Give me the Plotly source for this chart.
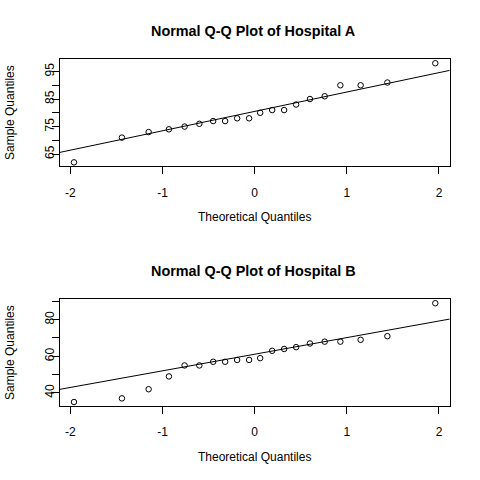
import numpy as np
import plotly.graph_objects as go
from plotly.subplots import make_subplots

# theoretical normal quantiles for n = 20
theoretical = [-1.96, -1.44, -1.15, -0.93, -0.76, -0.60, -0.45, -0.32, -0.19, -0.06,
               0.06, 0.19, 0.32, 0.45, 0.60, 0.76, 0.93, 1.15, 1.44, 1.96]

# sorted sample values
hospital_a = [62, 71, 73, 74, 75, 76, 77, 77, 78, 78,
              80, 81, 81, 83, 85, 86, 90, 90, 91, 98]
hospital_b = [35, 37, 42, 49, 55, 55, 57, 57, 58, 58,
              59, 63, 64, 65, 67, 68, 68, 69, 71, 89]

x_ticks = [-2, -1, 0, 1, 2]
x_labels = ["-2", "-1", "0", "1", "2"]
a_ticks = [65, 70, 75, 80, 85, 90, 95]
a_labels = ["65", "", "75", "", "85", "", "95"]
b_ticks = [40, 50, 60, 70, 80, 90]
b_labels = ["40", "", "60", "", "80", ""]

FONT = "Liberation Sans, Arial, sans-serif"


def r_range(vals):
    lo, hi = min(vals), max(vals)
    pad = (hi - lo) * 0.04
    return [lo - pad, hi + pad]


def qq_line(x_range, sample):
    # same as R's qqline: through the first and third quartiles
    q1, q3 = np.quantile(sample, [0.25, 0.75])
    z = 0.6744897501960817
    slope = (q3 - q1) / (2 * z)
    mid = q1 + slope * z
    xs = np.array(x_range)
    return xs, mid + slope * xs


fig = make_subplots(rows=2, cols=1)

xr = r_range(theoretical)
panels = [
    (1, hospital_a, a_ticks, a_labels, [0.6535, 0.8765]),
    (2, hospital_b, b_ticks, b_labels, [0.1542, 0.3765]),
]

for row, sample, yt, yl, dom in panels:
    fig.add_trace(go.Scatter(
        x=theoretical, y=sample, mode="markers",
        marker=dict(symbol="circle-open", size=5.5, color="black",
                    line=dict(width=1, color="black")),
        showlegend=False, cliponaxis=False, hoverinfo="skip",
    ), row=row, col=1)
    lx, ly = qq_line(xr, sample)
    fig.add_trace(go.Scatter(
        x=lx, y=ly, mode="lines", line=dict(color="black", width=1),
        showlegend=False, hoverinfo="skip",
    ), row=row, col=1)
    fig.update_xaxes(
        range=xr, domain=[0.124, 0.937], tickvals=x_ticks, ticktext=x_labels,
        ticks="outside", ticklen=7, tickcolor="black", tickwidth=1,
        showline=True, linecolor="black", linewidth=1, mirror=True,
        showgrid=False, zeroline=False, ticklabelstandoff=8,
        tickfont=dict(family=FONT, size=12, color="black"),
        row=row, col=1)
    fig.update_yaxes(
        range=r_range(sample), domain=dom, tickvals=yt, ticktext=yl,
        tickangle=-90, ticks="outside", ticklen=7, tickcolor="black", tickwidth=1,
        showline=True, linecolor="black", linewidth=1, mirror=True,
        showgrid=False, zeroline=False, ticklabelstandoff=-7,
        tickfont=dict(family=FONT, size=12, color="black"),
        row=row, col=1)

# titles and axis labels placed like R's base graphics
texts = [
    ("<b>Normal Q-Q Plot of Hospital A</b>", 253.5, 31, 14.4, 0),
    ("Theoretical Quantiles", 254.5, 217, 12, 0),
    ("Sample Quantiles", 10, 113, 12, -90),
    ("<b>Normal Q-Q Plot of Hospital B</b>", 253.5, 271, 14.4, 0),
    ("Theoretical Quantiles", 254.5, 457, 12, 0),
    ("Sample Quantiles", 10, 353, 12, -90),
]
for txt, px_x, px_y, size, ang in texts:
    fig.add_annotation(
        text=txt, x=px_x / 480, y=1 - px_y / 480, xref="paper", yref="paper",
        showarrow=False, textangle=ang, xanchor="center", yanchor="middle",
        font=dict(family=FONT, size=size, color="black"),
    )

fig.update_layout(
    width=480, height=480, margin=dict(l=0, r=0, t=0, b=0),
    paper_bgcolor="white", plot_bgcolor="white",
)

# drop the page's default body margin so the figure sits at 0,0
fig.write_html("out.html", config={"displayModeBar": False},
               post_script="document.body.style.margin='0px';")
